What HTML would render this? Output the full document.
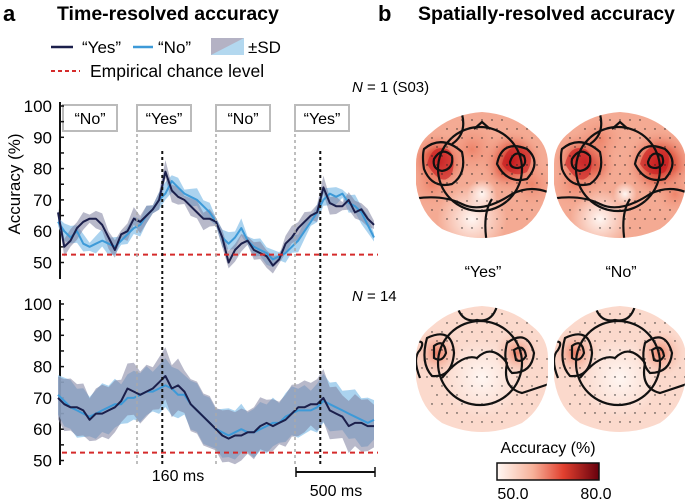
<!DOCTYPE html>
<html><head><meta charset="utf-8"><style>
body{margin:0;background:#fff;}
svg{font-family:"Liberation Sans",sans-serif;display:block}
</style></head><body>
<svg id="fig" width="685" height="501" viewBox="0 0 685 501">
<defs>
<clipPath id="head"><path d="M-50,-42 Q-30,-60 0,-62 Q30,-60 50,-42 Q66,-30 66,-10 L66,10 Q62,40 40,55 Q20,64 0,64 Q-20,64 -40,55 Q-62,40 -66,10 L-66,-10 Q-66,-30 -50,-42Z"/></clipPath>
<radialGradient id="hot" ><stop offset="0" stop-color="#c0141a"/><stop offset="0.45" stop-color="#e0553f" stop-opacity="0.85"/><stop offset="1" stop-color="#f4a58c" stop-opacity="0"/></radialGradient>
<radialGradient id="warm"><stop offset="0" stop-color="#ec7a60" stop-opacity="0.8"/><stop offset="1" stop-color="#f7b9a3" stop-opacity="0"/></radialGradient>
<radialGradient id="pale"><stop offset="0" stop-color="#fff6f2"/><stop offset="1" stop-color="#fff6f2" stop-opacity="0"/></radialGradient>
<linearGradient id="cbar"><stop offset="0" stop-color="#fff8f4"/><stop offset="0.35" stop-color="#f7b29a"/><stop offset="0.65" stop-color="#e2402f"/><stop offset="1" stop-color="#67000d"/></linearGradient>
</defs>

<text x="3" y="21" font-size="22" font-weight="bold">a</text>
<text x="57" y="20" font-size="19.5" font-weight="bold">Time-resolved accuracy</text>
<text x="378" y="21" font-size="22" font-weight="bold">b</text>
<text x="418" y="20" font-size="19.5" font-weight="bold">Spatially-resolved accuracy</text>

<g>
<line x1="51" y1="47" x2="73" y2="47" stroke="#1b1f4b" stroke-width="2.5"/>
<text x="82" y="53" font-size="17">“Yes”</text>
<line x1="133" y1="47" x2="153" y2="47" stroke="#3d9ad8" stroke-width="2.5"/>
<text x="158" y="53" font-size="17">“No”</text>
<g>
<rect x="211" y="38" width="33" height="17" fill="#b3d8ef"/>
<polygon points="211,38 244,38 211,55" fill="#b4b2c4"/>
</g>
<text x="248" y="53" font-size="17">±SD</text>
<line x1="51" y1="71" x2="80" y2="71" stroke="#d52b2b" stroke-width="2" stroke-dasharray="4,3"/>
<text x="90" y="77" font-size="17.5">Empirical chance level</text>
</g>

<text transform="translate(20,184) rotate(-90)" text-anchor="middle" font-size="17">Accuracy (%)</text>

<g id="stims"></g>
<g id="top"></g>
<g id="bot"></g>

<text x="178" y="481" font-size="16" text-anchor="middle">160 ms</text>
<g>
<line x1="296" y1="472" x2="375" y2="472" stroke="#111" stroke-width="2"/>
<line x1="296" y1="467" x2="296" y2="477" stroke="#111" stroke-width="1.5"/>
<line x1="375" y1="467" x2="375" y2="477" stroke="#111" stroke-width="1.5"/>
<text x="336" y="496" font-size="16" text-anchor="middle">500 ms</text>
</g>

<text x="352" y="92" font-size="15"><tspan font-style="italic">N</tspan> = 1 (S03)</text>
<text x="352" y="301" font-size="15"><tspan font-style="italic">N</tspan> = 14</text>
<text x="483" y="277" font-size="16" text-anchor="middle">“Yes”</text>
<text x="621" y="277" font-size="16" text-anchor="middle">“No”</text>

<g id="maps"></g>

<g>
<text x="548" y="453" font-size="16" text-anchor="middle">Accuracy (%)</text>
<rect x="497" y="463" width="102" height="17" fill="url(#cbar)" stroke="#111" stroke-width="1.5"/>
<text x="513" y="499" font-size="16" text-anchor="middle">50.0</text>
<text x="596" y="499" font-size="16" text-anchor="middle">80.0</text>
</g>
</svg>
<script>
const times=[0,40,80,120,160,200,240,280,320,360,400,440,480,520,560,600,640,680,720,760,800,840,880,920,960,1000,1040,1080,1120,1160,1200,1240,1280,1320,1360,1400,1440,1480,1520,1560,1600,1640,1680,1720,1760,1800,1840,1880,1920,1960,2000];
const topYes=[66,55,57,61,63,64,64,62,58,54,59,60,64,63,65,67,70,79,73,71,70,68,66,64,64,63,58,50,54,56,57,54,53,52,49,51,56,58,61,63,65,66,74,69,68,68,70,66,67,64,62];
const topNo=[63,60,58,60,56,55,56,57,56,55,57,59,61,62,65,67,70,72,76,74,72,71,70,68,66,63,58,56,58,61,57,55,54,53,51,52,53,55,57,60,63,66,70,72,71,72,69,68,66,62,58];
const botYes=[70,68,67,67,66,63,65,65,66,67,69,73,72,71,72,73,75,77,73,74,72,68,66,64,62,60,58,57,58,58,59,59,61,62,61,62,63,65,67,67,68,68,70,66,65,64,61,62,62,61,61];
const botNo=[71,69,67,66,65,64,65,66,67,68,68,70,70,71,72,72,73,74,73,71,71,68,66,64,62,60,59,58,59,60,59,59,60,61,62,62,64,65,66,66,66,67,69,68,67,66,65,64,63,62,63];
const topSD=[2.5,2.5];
const botSD=[8,7.5];
const yTicks=[50,60,70,80,90,100];
const chance=52.5;
const events=[500,1000,1500];
const peaks=[660,1660];
const stimLabels=["“No”","“Yes”","“No”","“Yes”"];
const stimStart=[0,500,1000,1500];

const NS="http://www.w3.org/2000/svg";
function mk(tag,attrs,parent){const e=document.createElementNS(NS,tag);for(const k in attrs)e.setAttribute(k,attrs[k]);parent.appendChild(e);return e;}
const xS=t=>58+t*0.158;
function chart(g,y100,pxPer10,yes,no,sd,ytop,ybot){
  const yS=v=>y100+(100-v)*pxPer10/10;
  const ax=mk('line',{x1:60,y1:yS(100)-4,x2:60,y2:ybot,stroke:'#111','stroke-width':2},g);
  
  
  for(let v=50;v<=100;v+=5){mk('line',{x1:60,y1:yS(v),x2:64,y2:yS(v),stroke:'#111','stroke-width':1.5},g);}
  yTicks.forEach(v=>{const t=mk('text',{x:52,y:yS(v)+6,'font-size':17,'text-anchor':'end'},g);t.textContent=v;
    
    });
  function band(vals,s,fill,op,name){
    let d='M'+times.map((t,i)=>xS(t).toFixed(1)+','+yS(vals[i]+s+((i*7)%5-2)*0.6).toFixed(1)).join('L');
    d+='L'+times.slice().reverse().map((t,j)=>{const i=times.length-1-j;return xS(t).toFixed(1)+','+yS(vals[i]-s-((i*3)%5-2)*0.6).toFixed(1);}).join('L')+'Z';
    const p=mk('path',{d:d,fill:fill,'fill-opacity':op},g);
    
    
  }
  band(no,sd[1],'#9ccbec',0.85,'sd-band-no');
  band(yes,sd[0],'#7d7f9e',0.55,'sd-band-yes');
  function line(vals,col,name){
    const p=mk('path',{d:'M'+times.map((t,i)=>xS(t).toFixed(1)+','+yS(vals[i]).toFixed(1)).join('L'),fill:'none',stroke:col,'stroke-width':2,'stroke-linejoin':'round'},g);
    
    
  }
  line(no,'#3d9ad8','line-no');
  line(yes,'#1b1f4b','line-yes');
  const c=mk('line',{x1:62,y1:yS(chance),x2:378,y2:yS(chance),stroke:'#d52b2b','stroke-width':2,'stroke-dasharray':'5,4'},g);
  
  
  events.forEach(t=>{const l=mk('line',{x1:xS(t),y1:ytop,x2:xS(t),y2:ybot,stroke:'#aaa','stroke-width':1.5,'stroke-dasharray':'3,3'},g);
    
    });
  peaks.forEach(t=>{const l=mk('line',{x1:xS(t),y1:ytop+(ytop<200?17:0),x2:xS(t),y2:ybot,stroke:'#111','stroke-width':2,'stroke-dasharray':'3,3'},g);
    
    });
}
chart(document.getElementById('top'),106,31.3,topYes,topNo,topSD,134,279);
chart(document.getElementById('bot'),304,31.3,botYes,botNo,botSD,281,465);
const sg=document.getElementById('stims');
stimStart.forEach((t,i)=>{const x=xS(t)+(i==0?5:0);
  const r=mk('rect',{x:x,y:105,width:54,height:26,fill:'#fff',stroke:'#bbb','stroke-width':2},sg);
  
  
  const tx=mk('text',{x:x+27,y:124,'font-size':16,'text-anchor':'middle'},sg);tx.textContent=stimLabels[i];});

const maps=document.getElementById('maps');
const mapDefs=[
 {cx:482,cy:174,name:'topomap-yes-n1',blobs:[[-43,-12,30,'hot'],[30,-12,32,'hot'],[-10,-25,35,'warm'],[50,10,30,'warm'],[-50,10,30,'warm']],pale:[[-10,45,35],[0,20,15]],strong:true},
 {cx:620,cy:174,name:'topomap-no-n1',blobs:[[-35,-12,32,'hot'],[40,-10,35,'hot'],[-20,-35,30,'warm'],[55,20,25,'warm'],[-45,10,30,'warm']],pale:[[-20,45,30],[5,20,12]],strong:true},
 {cx:482,cy:368,name:'topomap-yes-n14',blobs:[[-45,-15,24,'warm'],[-45,-15,12,'warm'],[35,-15,22,'warm'],[35,-15,10,'warm']],pale:[[0,10,40]],strong:false},
 {cx:620,cy:368,name:'topomap-no-n14',blobs:[[-45,-15,24,'warm'],[-45,-15,12,'warm'],[40,-15,24,'warm'],[40,-15,10,'warm']],pale:[[0,10,40]],strong:false}
];
mapDefs.forEach(m=>{
  const g=mk('g',{transform:`translate(${m.cx},${m.cy})`},maps);
  
  
  const c=mk('g',{'clip-path':'url(#head)'},g);
  mk('rect',{x:-70,y:-70,width:140,height:140,fill:m.strong?'#f4aa93':'#fbd9cc'},c);
  m.pale.forEach(p=>mk('circle',{cx:p[0],cy:p[1],r:p[2],fill:'url(#pale)'},c));
  m.blobs.forEach(b=>mk('circle',{cx:b[0],cy:b[1],r:b[2],fill:`url(#${b[3]})`},c));
  if(m.strong){
    mk('path',{d:'M-55,-10 Q-50,-30 -35,-25 Q-25,-20 -30,0 Q-40,15 -55,-10Z M20,-10 Q25,-30 40,-28 Q55,-20 45,-2 Q30,5 20,-10Z',fill:'#c81d20','fill-opacity':0.6},c);
  }
  const cs={fill:'none',stroke:'#111','stroke-width':2.2};
  mk('circle',Object.assign({cx:-2,cy:-5,r:42},cs),c);
  if(m.strong){
    mk('path',Object.assign({d:'M-58,-25 Q-40,-40 -20,-22 Q-15,0 -30,10 Q-50,15 -58,-5 Q-60,-18 -58,-25Z'},cs),c);
    mk('path',Object.assign({d:'M-48,-15 Q-40,-28 -30,-18 Q-28,-5 -40,-3 Q-50,-5 -48,-15Z'},cs),c);
    mk('path',Object.assign({d:'M15,-10 Q20,-35 45,-25 Q60,-12 45,5 Q25,10 15,-10Z'},cs),c);
    mk('path',Object.assign({d:'M28,-12 Q32,-25 42,-18 Q46,-8 36,-6 Q28,-6 28,-12Z'},cs),c);
    mk('path',Object.assign({d:'M-70,25 Q-40,20 -20,30 Q0,40 30,20 Q50,10 70,20'},cs),c);
    mk('path',Object.assign({d:'M-20,-60 Q-15,-40 -30,-30 M10,25 Q0,40 5,70'},cs),c);
    mk('path',Object.assign({d:'M-8,-45 L0,-52 L8,-45'},cs),c);
  } else {
    mk('path',Object.assign({d:'M-55,-30 Q-30,-42 -28,-15 Q-30,10 -50,8 Q-62,-5 -55,-30Z'},cs),c);
    mk('path',Object.assign({d:'M-48,-22 Q-38,-30 -36,-15 Q-40,-5 -48,-10Z'},cs),c);
    mk('path',Object.assign({d:'M25,-25 Q45,-40 52,-15 Q50,5 30,5 Q20,-5 25,-25Z'},cs),c);
    mk('path',Object.assign({d:'M32,-18 Q42,-25 44,-12 Q40,-5 34,-8Z'},cs),c);
    mk('path',Object.assign({d:'M-40,10 Q-20,-15 -5,-10 Q10,-25 25,-5 Q20,20 40,25 L70,15'},cs),c);
    mk('path',Object.assign({d:'M-25,-62 Q-20,-45 -5,-48 Q10,-45 15,-62'},cs),c);
    mk('path',Object.assign({d:'M-70,-25 Q-55,-30 -62,-18 Q-70,-10 -62,10'},cs),c);
  }
  for(let yy=-54;yy<=58;yy+=9){for(let xx=-60;xx<=60;xx+=10){
    if(xx*xx/4356+yy*yy/4096<0.9){mk('circle',{cx:xx+((yy/9)%2?5:0),cy:yy,r:0.7,fill:'#222'},c);}
  }}
});
</script>
</body></html>
